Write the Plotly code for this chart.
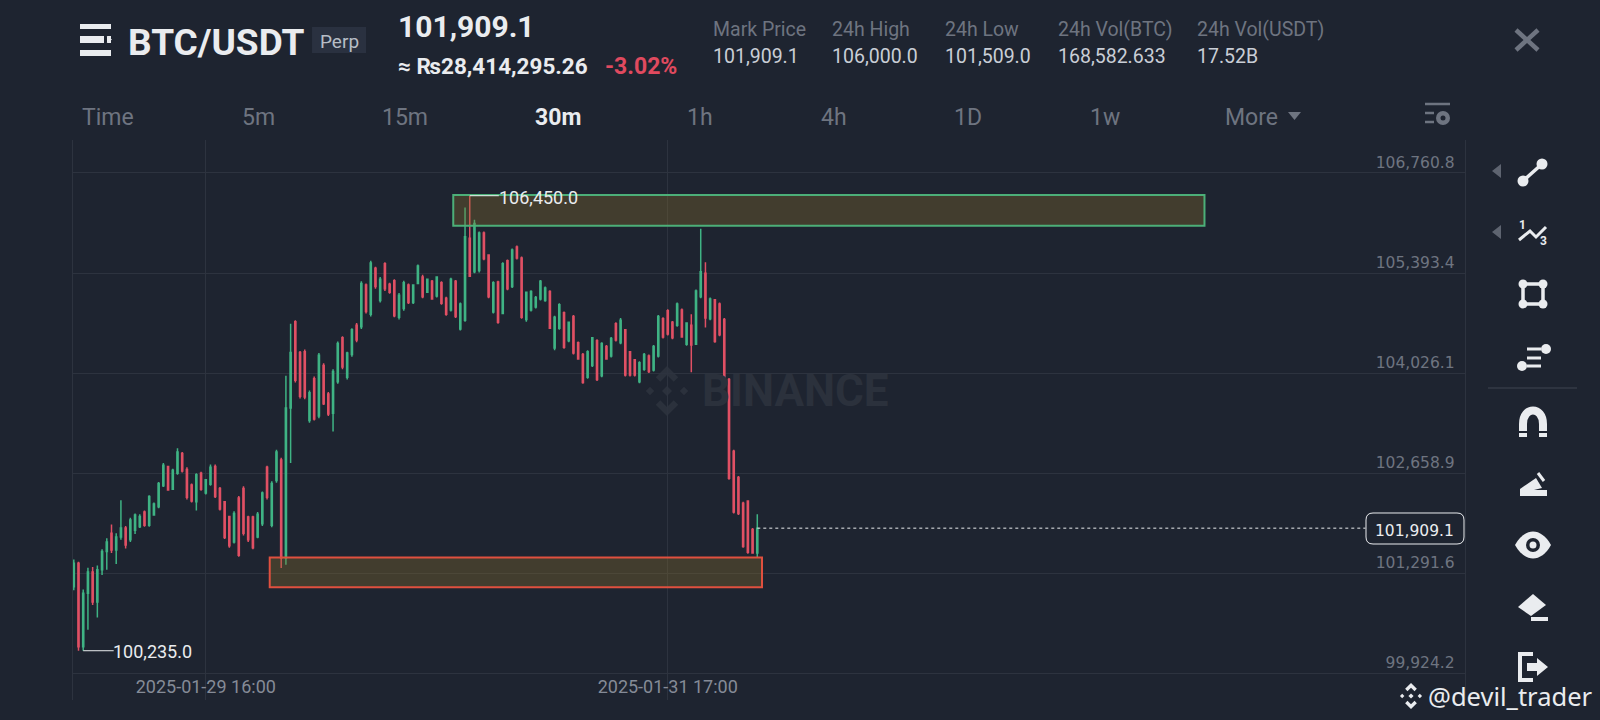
import pandas as pd
import plotly.graph_objects as go

times = pd.date_range("2025-01-29 02:00", periods=146, freq="30min")

opens = [101110,101430,100290,101020,101310,100900,101340,101590,101840,101610,
         101790,101910,101750,101880,101930,102130,101950,102090,102200,102490,
         102750,102440,102660,102930,102710,102500,102270,102660,102390,102510,
         102750,102450,102270,102070,101720,102320,102450,102060,102060,101790,
         101970,102740,101950,102560,102840,101500,103550,104730,104310,104320,
         103380,103950,103440,104130,103740,103480,103910,104510,103970,104280,
         104680,104660,105230,104830,105460,105020,105520,105240,105290,104790,
         104910,105230,104990,105250,105340,105130,105280,105080,105260,105050,
         104890,105280,104630,104750,105870,105410,105430,105940,105640,104860,
         105270,104840,105560,105210,105750,105600,104760,104890,104930,105040,
         105020,105140,104370,104640,104850,104470,104800,104440,104280,103970,
         104130,104470,103990,104390,104260,104700,104440,104620,104320,104210,
         103910,104080,104260,104070,104260,104770,104880,104720,104680,104890,
         104420,104680,104420,105070,105390,104770,105030,104970,104760,103940,
         102960,102600,102250,102280,101890,101570]
highs = [101480,101450,101070,101370,101380,101400,101620,101770,101960,101840,
         102290,101940,102050,102110,102100,102150,102360,102260,102540,102800,
         102760,102720,103000,102950,102740,102520,102660,102680,102580,102780,
         102780,102470,102280,102080,102140,102350,102480,102080,102080,102130,
         102410,102760,102550,102980,102870,103990,104700,104750,104330,104350,
         103790,103980,104300,104160,103770,104080,104460,104530,104320,104640,
         104710,105280,105250,105560,105480,105340,105540,105260,105310,105120,
         105290,105250,105240,105510,105370,105320,105300,105350,105280,105070,
         105330,105300,104990,106290,106450,106120,105960,105960,105650,105280,
         105290,105540,105580,105730,105770,105620,105140,105160,105080,105300,
         105210,105160,104810,104980,104870,104730,104820,104460,104300,104340,
         104520,104490,104450,104410,104520,104720,104780,104630,104330,104220,
         104190,104300,104280,104410,104820,104790,104900,104740,104990,104910,
         104720,104830,105170,106000,105540,105060,105040,104990,104780,103960,
         102980,102620,102270,102290,101910,102100]
lows = [101060,100235,100235,100520,100860,100690,101270,101340,101570,101420,
        101750,101630,101720,101830,101910,101930,101930,102080,102180,102470,
        102420,102430,102640,102670,102300,102260,102150,102420,102370,102490,
        102320,102150,101760,101640,101700,101520,101810,101720,101620,101770,
        101940,102300,101920,102530,101365,101410,102800,103900,103680,103670,
        103350,103380,103410,103590,103440,103230,103880,104080,103940,104250,
        104450,104630,104840,104800,105180,104990,105150,105110,104790,104760,
        104880,104970,104970,105240,105050,105120,105030,105060,104960,104810,
        104870,104780,104610,104730,105340,105390,105400,105570,105050,104840,
        104700,104830,105160,105190,105580,104770,104730,104870,104910,105020,
        105000,104630,104340,104620,104360,104450,104280,104210,103880,103950,
        104110,103920,103970,104210,104240,104460,104420,103980,103980,103980,
        103890,104060,104030,104050,104240,104500,104540,104490,104660,104510,
        104400,104040,104410,105050,104650,104750,104440,104530,103910,102570,
        102110,102090,101640,101560,101560,101510]
closes = [101430,100290,101020,101310,100900,101340,101590,101720,101610,101790,
          101910,101680,102020,102090,102070,101950,102340,102240,102520,102770,
          102430,102700,102950,102690,102330,102280,102640,102440,102570,102740,
          102340,102170,101780,101670,102110,101540,101840,101750,101640,102100,
          102390,102330,102520,102950,101500,103550,104310,103930,103710,103700,
          103760,103400,104270,103610,103470,104050,104430,104110,104300,104620,
          104480,105250,104870,105530,105210,105310,105180,105130,104810,105090,
          105260,104990,105230,105490,105070,105310,105040,105340,104980,104830,
          105310,104800,104970,105890,105350,106070,105940,105590,105070,105260,
          104720,105520,105180,105710,105600,104790,105130,105140,105060,105280,
          105190,104640,104790,104960,104380,104720,104300,104220,103900,104320,
          104510,103940,104430,104220,104500,104480,104750,104000,104000,104000,
          104170,104280,104050,104390,104800,104520,104560,104510,104970,104520,
          104710,104410,105150,105410,104780,105040,104460,104550,103920,102590,
          102130,102110,101660,101580,101570,101909.1]

price_ticks = [106760.8, 105393.4, 104026.1, 102658.9, 101291.6, 99924.2]
time_ticks = ["2025-01-29 16:00", "2025-01-31 17:00"]

stat_names = ["Mark Price", "24h High", "24h Low", "24h Vol(BTC)", "24h Vol(USDT)"]
stat_values = ["101,909.1", "106,000.0", "101,509.0", "168,582.633", "17.52B"]
stat_x = [711, 830, 943, 1056, 1195]
tabs = ["Time", "5m", "15m", "30m", "1h", "4h", "1D", "1w", "More"]
tab_x = [80, 240, 380, 533, 685, 819, 952, 1088, 1223]

BG = "#1e2430"
GREEN = "#3fb384"
RED = "#e05064"
GRID = "#2d333f"
GREY = "#6e7480"
WHITE = "#eaecef"

# plot box in page pixels
L, R, T, B = 73, 1465, 140, 700
X = lambda x: (x - L) / (R - L)
Y = lambda y: (B - y) / (B - T)

fig = go.Figure(go.Candlestick(
    x=times, open=opens, high=highs, low=lows, close=closes,
    increasing=dict(line=dict(color=GREEN, width=1.5), fillcolor=GREEN),
    decreasing=dict(line=dict(color=RED, width=1.5), fillcolor=RED),
    whiskerwidth=0, showlegend=False,
))

shapes = []
notes = []

def label(text, x, y, size, color, anchor="left", bold=False, font="Roboto"):
    if bold:
        text = "<b>" + text + "</b>"
    notes.append(dict(text=text, x=X(x), y=Y(y), xref="paper", yref="paper", showarrow=False,
                      xanchor=anchor, yanchor="middle", font=dict(size=size, color=color, family=font)))

def poly(points, color, close=True, width=0, layer="above"):
    path = "M" + " L".join(f"{X(a):.5f} {Y(b):.5f}" for a, b in points) + (" Z" if close else "")
    line = dict(color=color, width=width) if width else dict(width=0)
    shapes.append(dict(type="path", path=path, xref="paper", yref="paper", layer=layer, line=line,
                       fillcolor=color if close else "rgba(0,0,0,0)"))

def dot(x, y, r, color, layer="above"):
    shapes.append(dict(type="circle", xref="paper", yref="paper", x0=X(x - r), x1=X(x + r), y0=Y(y + r), y1=Y(y - r),
                       fillcolor=color, line=dict(width=0), layer=layer))

def curve(cmds, color, width=0, fill=None):
    # cmds: list of (letter, x, y, x, y ...) in page pixels
    parts = []
    for c in cmds:
        nums = []
        for i in range(1, len(c), 2):
            nums.append(f"{X(c[i]):.5f} {Y(c[i + 1]):.5f}")
        parts.append(c[0] + " ".join(nums))
    line = dict(color=color, width=width) if width else dict(width=0)
    shapes.append(dict(type="path", path=" ".join(parts), xref="paper", yref="paper", line=line,
                       fillcolor=fill if fill else "rgba(0,0,0,0)"))

def diamond_logo(cx, cy, r, color, layer="below"):
    top = [(0, -1), (.45, -.55), (.27, -.37), (0, -.64), (-.27, -.37), (-.45, -.55)]
    poly([(cx + a * r, cy + b * r) for a, b in top], color, layer=layer)
    poly([(cx + a * r, cy - b * r) for a, b in top], color, layer=layer)
    for dx, s in [(0, .2), (-.68, .17), (.68, .17)]:
        poly([(cx + dx * r, cy - s * r), (cx + dx * r + s * r, cy), (cx + dx * r, cy + s * r), (cx + dx * r - s * r, cy)], color, layer=layer)

# zones
zone_fill = "rgba(140,112,42,0.33)"
shapes.append(dict(type="rect", x0="2025-01-30 18:15", x1="2025-02-03 01:56", y0=106041, y1=106460,
                   line=dict(color="#4caf78", width=2), fillcolor=zone_fill, layer="above"))
shapes.append(dict(type="rect", x0="2025-01-29 22:47", x1="2025-02-01 03:00", y0=101101, y1=101510,
                   line=dict(color="#e0503f", width=2), fillcolor=zone_fill, layer="above"))

# high / low leaders and the last price line
shapes.append(dict(type="line", x0=times[84], x1="2025-01-30 23:05", y0=highs[84], y1=highs[84], line=dict(color=WHITE, width=1)))
shapes.append(dict(type="line", x0=times[2], x1="2025-01-29 06:14", y0=lows[2], y1=lows[2], line=dict(color=WHITE, width=1)))
shapes.append(dict(type="line", x0=times[-1], x1="2025-02-03 19:00", y0=closes[-1], y1=closes[-1],
                   line=dict(color=WHITE, width=1, dash="3px,3px")))
label("106,450.0", 497, 197, 18, WHITE)
label("100,235.0", 111, 651, 18, WHITE)

# last price box
curve([("M", 1373, 513), ("L", 1457, 513), ("Q", 1464, 513, 1464, 520), ("L", 1464, 537), ("Q", 1464, 544, 1457, 544),
       ("L", 1373, 544), ("Q", 1366, 544, 1366, 537), ("L", 1366, 520), ("Q", 1366, 513, 1373, 513), ("Z",)],
      WHITE, width=1, fill=BG)
label("101,909.1", 1456, 531, 15.5, WHITE, anchor="right", font="DejaVu Sans")

# watermark
diamond_logo(667, 391, 25, "#2b313c")
label("BINANCE", 700, 391, 44, "#2b313c", bold=True)
diamond_logo(1411, 696, 13, WHITE, layer="above")
label("@devil_trader", 1426, 696, 25.5, WHITE, font="Noto Sans")

# header
for y0, y1 in [(24, 29), (36, 43), (50, 56)]:
    poly([(80, y0), (111, y0), (111, y1), (80, y1)], WHITE)
poly([(104, 34), (111, 39.5), (104, 45)], BG)
poly([(107, 36), (112, 39.5), (107, 43)], WHITE)
label("BTC/USDT", 126, 43, 37, WHITE, bold=True)
poly([(312, 27), (366, 27), (366, 53), (312, 53)], "#2a3140")
label("Perp", 339, 42, 19, "#b7bdc6", anchor="center")
label("101,909.1", 396, 26, 30, WHITE, bold=True)
label("≈ ₨28,414,295.26", 396, 66, 22.5, WHITE, bold=True)
label("-3.02%", 603, 66, 23, "#e04a5f", bold=True)

for name, value, x in zip(stat_names, stat_values, stat_x):
    label(name, x, 29, 19.5, GREY)
    label(value, x, 56, 19.5, "#c9ced6")

for tab, x in zip(tabs, tab_x):
    if tab == "30m":
        label(tab, x, 118, 23, WHITE, bold=True)
    else:
        label(tab, x, 118, 23, GREY)
poly([(1288, 112), (1301, 112), (1294.5, 120)], GREY)

# settings, close
for y0, x1 in [(104, 1450), (113, 1434), (122, 1434)]:
    poly([(1425, y0), (x1, y0)], GREY, close=False, width=2.5)
dot(1443, 118, 7, GREY)
dot(1443, 118, 2.5, BG)
poly([(1516, 30), (1538, 50)], GREY, close=False, width=4.5)
poly([(1538, 30), (1516, 50)], GREY, close=False, width=4.5)

# drawing tools column
for y0 in [171, 232]:
    poly([(1492, y0), (1501, y0 - 7), (1501, y0 + 7)], "#5e6470")
dot(1523, 181, 5.5, WHITE)
dot(1542, 164, 5.5, WHITE)
poly([(1523, 181), (1542, 164)], WHITE, close=False, width=3.5)

label("1", 1522, 225, 12, WHITE, anchor="center", bold=True)
label("3", 1543, 241, 12, WHITE, anchor="center", bold=True)
poly([(1519, 240), (1530, 231), (1536, 237), (1546, 227)], WHITE, close=False, width=3)

sq = [(1523, 284), (1543, 284), (1543, 304), (1523, 304), (1523, 284)]
poly(sq, WHITE, close=False, width=3.5)
for a, b in sq[:4]:
    dot(a, b, 4.5, WHITE)

for y0 in [349, 358, 366]:
    poly([(1527, y0), (1541, y0)], WHITE, close=False, width=3)
dot(1546, 349, 5, WHITE)
dot(1522, 366, 5, WHITE)
poly([(1488, 388), (1577, 388)], "#343a46", close=False, width=1.5)

curve([("M", 1523, 431), ("L", 1523, 424), ("C", 1523, 406, 1543, 406, 1543, 424), ("L", 1543, 431)], WHITE, width=8)
poly([(1519, 433), (1527, 433), (1527, 437), (1519, 437)], WHITE)
poly([(1539, 433), (1547, 433), (1547, 437), (1539, 437)], WHITE)
poly([(1520, 496), (1520, 489), (1536, 478), (1542, 488), (1534, 490), (1547, 490), (1547, 496)], WHITE)
poly([(1538, 473), (1544, 481)], WHITE, close=False, width=3)

curve([("M", 1515, 545), ("C", 1525, 527, 1541, 527, 1551, 545), ("C", 1541, 563, 1525, 563, 1515, 545), ("Z",)], WHITE, fill=WHITE)
dot(1533, 545, 7, BG)
dot(1533, 545, 3.5, WHITE)

poly([(1518, 607), (1533, 594), (1546, 605), (1531, 616)], WHITE)
poly([(1531, 619), (1548, 619)], WHITE, close=False, width=4)
poly([(1533, 654), (1520, 654), (1520, 680), (1533, 680)], WHITE, close=False, width=4)
poly([(1527, 663), (1537, 663), (1537, 658), (1548, 667), (1537, 676), (1537, 671), (1527, 671)], WHITE)

fig.update_layout(
    width=1600, height=720,
    paper_bgcolor=BG, plot_bgcolor=BG,
    margin=dict(l=L, r=1600 - R, t=T, b=720 - B),
    showlegend=False,
    boxgap=0.65,
    shapes=shapes, annotations=notes,
    xaxis=dict(
        rangeslider=dict(visible=False),
        range=["2025-01-29 01:55", "2025-02-04 05:34"],
        tickvals=time_ticks, ticktext=time_ticks,
        ticklabelposition="inside", ticks="",
        showgrid=True, gridcolor=GRID, gridwidth=1, zeroline=False, showline=False,
        tickfont=dict(size=18, color="#858b97", family="Roboto"),
    ),
    yaxis=dict(
        side="right",
        range=[99562, 107211],
        tickvals=price_ticks, ticktext=[f"{v:,.1f}" for v in price_ticks],
        ticklabelposition="inside top", ticks="", ticklabelstandoff=10,
        showgrid=True, gridcolor=GRID, gridwidth=1, zeroline=False,
        showline=True, mirror=True, linecolor=GRID, linewidth=1,
        tickfont=dict(size=15.5, color=GREY, family="DejaVu Sans"),
    ),
)

fig.write_html("out.html", config=dict(displayModeBar=False),
               post_script="document.body.style.margin='0';document.body.style.background='#1e2430';")
